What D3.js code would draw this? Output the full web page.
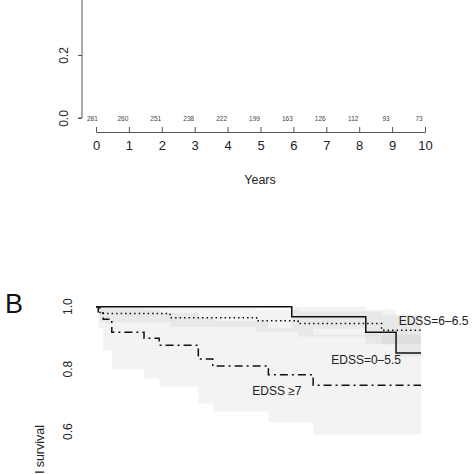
<!DOCTYPE html>
<html><head><meta charset="utf-8">
<script src="https://cdn.jsdelivr.net/npm/d3@7"></script>
<style>body{margin:0;background:#fff}text{font-family:"Liberation Sans",Arial,sans-serif}</style>
</head><body>
<script>
// Panel A (bottom part) data
const atRiskYears = [0,1,2,3,4,5,6,7,8,9,10];
const atRisk = [281,260,251,238,222,199,163,126,112,93,73];
const yTicksA = [0.0, 0.2];
// Panel B step curves: change times (years) and survival after each step
const solidT = [0, 5.95, 8.2, 9.12];
const solidS = [1.0, 0.968, 0.918, 0.852];
const solidLo = [1.0, 0.93, 0.88, 0.84];
const solidHi = [1.0, 1.0, 0.99, 0.97];
const dotT = [0, 0.12, 2.25, 4.88, 6.14, 8.68];
const dotS = [1.0, 0.978, 0.965, 0.955, 0.946, 0.925];
const dotLo = [1.0, 0.95, 0.935, 0.92, 0.905, 0.88];
const dotHi = [1.0, 1.0, 0.995, 0.99, 0.985, 0.975];
const ddT = [0, 0.07, 0.22, 0.48, 1.46, 1.92, 3.11, 3.55, 5.24, 6.6];
const ddS = [1.0, 0.98, 0.96, 0.918, 0.899, 0.877, 0.833, 0.81, 0.782, 0.749];
const ddLo = [1.0, 0.93, 0.86, 0.8, 0.77, 0.745, 0.69, 0.665, 0.63, 0.59];
const ddHi = [1.0, 1.0, 1.0, 0.995, 0.99, 0.98, 0.965, 0.955, 0.93, 0.91];
const endT = 9.88;
const yTicksB = [0.6, 0.8, 1.0];

const svg = d3.select('body').append('svg').attr('width', 474).attr('height', 474);
const x = d3.scaleLinear().domain([0, 10]).range([96, 425]);

// ---- Panel A bottom
const yA = d3.scaleLinear().domain([0, 0.2]).range([118, 55]);
const gA = svg.append('g').attr('transform', 'translate(82,0)');
gA.call(d3.axisLeft(yA).tickValues(yTicksA).tickFormat(d3.format('.1f')).tickSize(4))
  .call(g => g.select('.domain').attr('d', 'M-4,118H0V-10'));
gA.selectAll('path,line').attr('stroke', '#555');
gA.selectAll('.tick text').attr('font-size', 12).attr('fill', '#222')
  .attr('transform', 'rotate(-90)').attr('x', 0).attr('dx', 0).attr('y', -14).attr('text-anchor', 'middle').attr('dy', 0);

svg.append('g').selectAll('text').data(atRisk).join('text')
  .attr('x', (d, i) => x(atRiskYears[i]) - 6).attr('y', 121)
  .attr('font-size', 6.5).attr('fill', '#444').attr('text-anchor', (d, i) => i === 0 ? 'start' : 'middle')
  .attr('dx', (d, i) => i === 0 ? -3 : 0)
  .text(d => d);

const gX = svg.append('g').attr('transform', 'translate(0,132)')
  .call(d3.axisBottom(x).ticks(10).tickSize(5).tickSizeOuter(0).tickPadding(4));
gX.selectAll('path,line').attr('stroke', '#555');
gX.selectAll('.tick line').attr('transform', 'translate(0,-5)');
gX.selectAll('text').attr('font-size', 13).attr('fill', '#222');
svg.append('text').attr('x', 260).attr('y', 184).attr('text-anchor', 'middle')
  .attr('font-size', 12.5).attr('fill', '#222').text('Years');

// ---- Panel B
const yB = d3.scaleLinear().domain([0.6, 1.0]).range([431.7, 306.7]);
svg.append('text').attr('x', 5).attr('y', 313).attr('font-size', 27).attr('fill', '#111').text('B');
svg.append('g').selectAll('text').data(yTicksB).join('text')
  .attr('transform', d => `translate(72,${yB(d)}) rotate(-90)`).attr('text-anchor', 'middle')
  .attr('font-size', 12).attr('fill', '#222').text(d3.format('.1f'));
svg.append('text').attr('transform', 'translate(44,425) rotate(-90)').attr('text-anchor', 'end')
  .attr('font-size', 12.5).attr('fill', '#222').text('Overall survival');

function steps(T, V) {
  const pts = T.map((t, i) => [t, V[i]]);
  pts.push([endT, V[V.length - 1]]);
  return pts;
}
const stepLine = d3.line().x(d => x(d[0])).y(d => yB(d[1])).curve(d3.curveStepAfter);
const stepArea = d3.area().x(d => x(d[0])).y0(d => yB(d[1])).y1(d => yB(d[2])).curve(d3.curveStepAfter);
function band(T, lo, hi) {
  const pts = T.map((t, i) => [t, lo[i], hi[i]]);
  pts.push([endT, lo[lo.length - 1], hi[hi.length - 1]]);
  return pts;
}
const bands = [[ddT, ddLo, ddHi], [dotT, dotLo, dotHi], [solidT, solidLo, solidHi]];
svg.append('g').selectAll('path').data(bands).join('path')
  .attr('d', d => stepArea(band(...d))).attr('fill', '#999').attr('fill-opacity', 0.12);

const curves = [
  {T: solidT, S: solidS, dash: null},
  {T: dotT, S: dotS, dash: '1.5,3'},
  {T: ddT, S: ddS, dash: '8,4,2,4'}
];
svg.append('g').selectAll('path').data(curves).join('path')
  .attr('d', d => stepLine(steps(d.T, d.S))).attr('fill', 'none')
  .attr('stroke', '#111').attr('stroke-width', 1.5)
  .attr('stroke-dasharray', d => d.dash);

const labels = [
  {t: 'EDSS=6\u20136.5', x: 9.2, v: 0.952},
  {t: 'EDSS=0\u20135.5', x: 7.15, v: 0.826},
  {t: 'EDSS \u22657', x: 4.75, v: 0.728}
];
svg.append('g').selectAll('text').data(labels).join('text')
  .attr('x', d => x(d.x)).attr('y', d => yB(d.v)).attr('font-size', 12).attr('fill', '#222')
  .attr('dominant-baseline', 'middle').text(d => d.t);
</script>
</body></html>
